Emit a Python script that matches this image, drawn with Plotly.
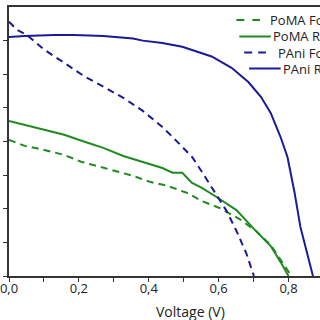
import plotly.graph_objects as go

# PAni Reverse (solid blue)
pani_rev_v = [0.0, 0.045, 0.130, 0.186, 0.270, 0.355, 0.383, 0.439, 0.496, 0.524, 0.580, 0.637, 0.685, 0.721, 0.749, 0.777, 0.797, 0.817, 0.834, 0.870]
pani_rev_j = [7.11, 7.14, 7.17, 7.17, 7.14, 7.06, 7.00, 6.93, 6.82, 6.73, 6.53, 6.19, 5.77, 5.33, 4.85, 4.14, 3.54, 2.50, 1.46, 0.0]

# PAni Forward (dashed blue)
pani_fwd_v = [0.0, 0.023, 0.051, 0.101, 0.158, 0.214, 0.270, 0.327, 0.383, 0.439, 0.482, 0.524, 0.552, 0.594, 0.623, 0.651, 0.679, 0.701]
pani_fwd_j = [7.56, 7.32, 7.17, 6.73, 6.34, 5.95, 5.63, 5.30, 4.91, 4.43, 3.99, 3.54, 3.10, 2.41, 1.93, 1.34, 0.68, 0.0]

# PoMA Reverse (solid green)
poma_rev_v = [0.0, 0.101, 0.158, 0.214, 0.270, 0.327, 0.383, 0.439, 0.468, 0.496, 0.524, 0.552, 0.594, 0.651, 0.701, 0.749, 0.777, 0.800]
poma_rev_j = [4.61, 4.35, 4.20, 4.00, 3.81, 3.57, 3.40, 3.21, 3.07, 3.07, 2.77, 2.62, 2.35, 1.96, 1.40, 0.89, 0.42, 0.0]

# PoMA Forward (dashed green)
poma_fwd_v = [0.0, 0.045, 0.101, 0.158, 0.206, 0.299, 0.355, 0.403, 0.454, 0.510, 0.552, 0.603, 0.659, 0.707, 0.749, 0.797, 0.808]
poma_fwd_j = [4.05, 3.87, 3.75, 3.60, 3.40, 3.15, 2.98, 2.80, 2.68, 2.47, 2.23, 2.02, 1.70, 1.34, 0.92, 0.18, 0.0]

x_tick_vals = [0.0, 0.1, 0.2, 0.3, 0.4, 0.5, 0.6, 0.7, 0.8]
x_tick_text = ["0,0", "", "0,2", "", "0,4", "", "0,6", "", "0,8"]
y_tick_vals = [0, 1, 2, 3, 4, 5, 6, 7]

legend_names = ["PoMA Forward", "PoMA Reverse", "PAni Forward", "PAni Reverse"]

GREEN = "#1f8a1f"
BLUE = "#1a1a96"
FONT = "Open Sans"

fig = go.Figure()
fig.add_trace(go.Scatter(x=poma_fwd_v, y=poma_fwd_j, mode="lines", name=legend_names[0],
                         line=dict(color=GREEN, width=2, dash="7px,5px")))
fig.add_trace(go.Scatter(x=poma_rev_v, y=poma_rev_j, mode="lines", name=legend_names[1],
                         line=dict(color=GREEN, width=2)))
fig.add_trace(go.Scatter(x=pani_fwd_v, y=pani_fwd_j, mode="lines", name=legend_names[2],
                         line=dict(color=BLUE, width=2, dash="7px,5px")))
fig.add_trace(go.Scatter(x=pani_rev_v, y=pani_rev_j, mode="lines", name=legend_names[3],
                         line=dict(color=BLUE, width=2)))

# px -> data helpers for legend placement (plot area: x 4..320, y 7..276)
def vx(px):
    return (px - 4) / 355.0

def py_paper(py):
    return (276 - py) / 269.0

legend_rows = [
    (legend_names[0], GREEN, "8px,8px", 235, 259, 268, 20),
    (legend_names[1], GREEN, "solid", 238, 270, 271, 36.5),
    (legend_names[2], BLUE, "8px,6px", 243, 265, 276, 52.5),
    (legend_names[3], BLUE, "solid", 248, 280, 281, 68.5),
]
for name, col, dash, x0, x1, tx, yy in legend_rows:
    fig.add_shape(type="line", xref="x", yref="paper", x0=vx(x0), x1=vx(x1),
                  y0=py_paper(yy), y1=py_paper(yy), line=dict(color=col, width=2, dash=dash))
    fig.add_annotation(xref="x", yref="paper", x=vx(tx), y=py_paper(yy), text=name,
                       showarrow=False, xanchor="left", yanchor="middle", borderpad=0,
                       font=dict(family=FONT, size=13, color="#222"))

fig.add_annotation(xref="x", yref="paper", x=vx(188), y=py_paper(311), text="Voltage (V)",
                   showarrow=False, xanchor="center", yanchor="middle",
                   font=dict(family=FONT, size=14, color="#222"))

fig.update_layout(
    width=320, height=320,
    margin=dict(l=4, r=0, t=7, b=44),
    paper_bgcolor="white", plot_bgcolor="white",
    showlegend=False,
    font=dict(family=FONT, size=13, color="#222"),
)
fig.update_xaxes(range=[0, 316 / 355.0], tickvals=x_tick_vals, ticktext=x_tick_text,
                 ticks="outside", ticklen=4, tickcolor="#333", showline=True, linecolor="#333",
                 linewidth=1.5, mirror=True, showgrid=False, zeroline=False,
                 ticklabeloverflow="allow", ticklabelstandoff=-4,
                 tickfont=dict(family=FONT, size=13, color="#222"))
fig.update_yaxes(range=[0, 8], tickvals=y_tick_vals, showticklabels=False,
                 ticks="outside", ticklen=4, tickcolor="#333", showline=True, linecolor="#333",
                 linewidth=1.5, mirror=False, showgrid=False, zeroline=False)

fig.write_html("out.html")
